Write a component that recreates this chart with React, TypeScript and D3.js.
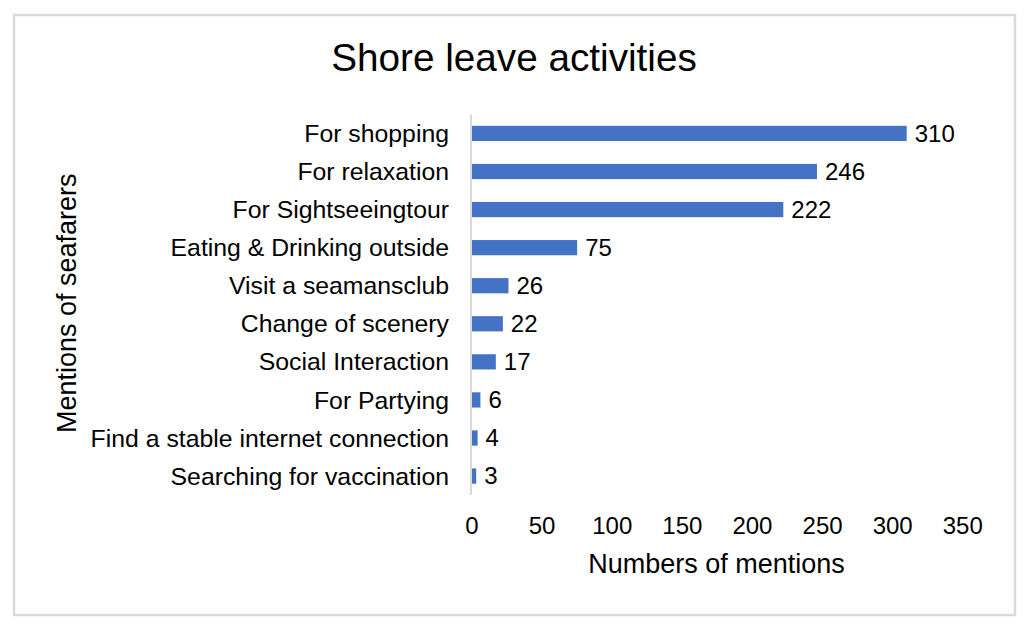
import React from "react";
import * as d3 from "d3";

const categories = [
  "For shopping",
  "For relaxation",
  "For Sightseeingtour",
  "Eating & Drinking outside",
  "Visit a seamansclub",
  "Change of scenery",
  "Social Interaction",
  "For Partying",
  "Find a stable internet connection",
  "Searching for vaccination",
];
const values = [310, 246, 222, 75, 26, 22, 17, 6, 4, 3];
const xTicks = [0, 50, 100, 150, 200, 250, 300, 350];

const W = 1033;
const H = 640;
const FONT = "'Liberation Sans', Arial, sans-serif";

export default function App() {
  const x = d3.scaleLinear().domain([0, 350]).range([472, 962.8]);
  const y = d3
    .scaleBand<string>()
    .domain(categories)
    .range([114.4, 495.1])
    .paddingInner(0.6)
    .paddingOuter(0.3);
  const bw = y.bandwidth();

  return (
    <svg
      width={W}
      height={H}
      style={{ position: "absolute", left: 0, top: 0, display: "block", background: "#fff" }}
      fontFamily={FONT}
    >
      <rect x={0} y={0} width={W} height={H} fill="#fff" />
      <rect x={14} y={15} width={1001} height={600} fill="#fff" stroke="#d9d9d9" strokeWidth={2.5} />
      <text x={514} y={70.5} textAnchor="middle" fontSize={38.7} fill="#000">
        Shore leave activities
      </text>
      {categories.map((c, i) => {
        const yc = (y(c) as number) + bw / 2;
        return (
          <g key={c}>
            <rect x={x(0)} y={yc - bw / 2} width={x(values[i]) - x(0)} height={bw} fill="#4472C4" />
            <text x={449} y={yc + 8.6} textAnchor="end" fontSize={24.8} fill="#000">
              {c}
            </text>
            <text x={x(values[i]) + 8} y={yc + 8.4} fontSize={24} fill="#000">
              {values[i]}
            </text>
          </g>
        );
      })}
      <line x1={471} x2={471} y1={114.4} y2={495.1} stroke="#d9d9d9" strokeWidth={2} />
      {xTicks.map((t) => (
        <text key={t} x={x(t)} y={534} textAnchor="middle" fontSize={24} fill="#000">
          {t}
        </text>
      ))}
      <text x={716.5} y={572.5} textAnchor="middle" fontSize={27} fill="#000">
        Numbers of mentions
      </text>
      <text
        transform={`translate(75.5,303.3) rotate(-90)`}
        textAnchor="middle"
        fontSize={27}
        fill="#000"
      >
        Mentions of seafarers
      </text>
    </svg>
  );
}
